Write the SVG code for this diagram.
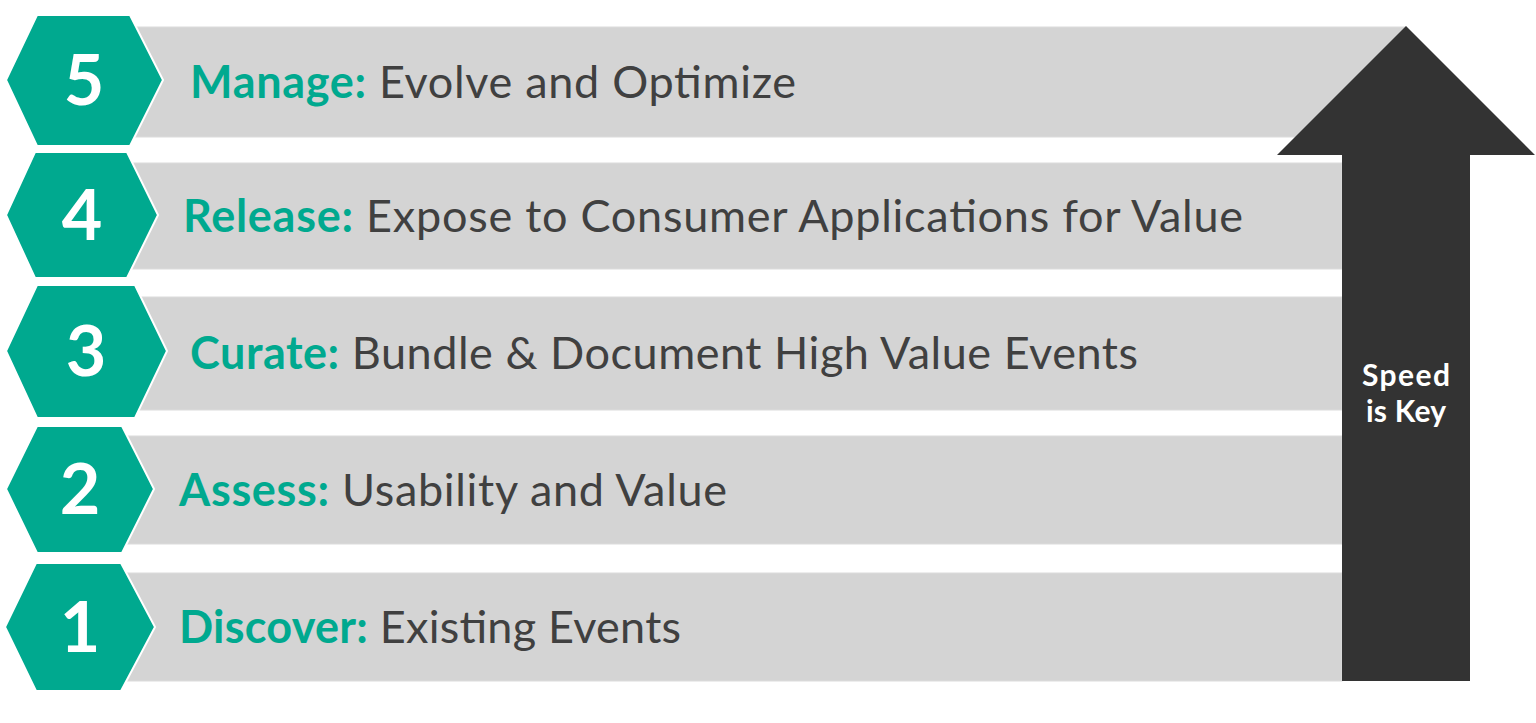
<svg xmlns="http://www.w3.org/2000/svg" width="1536" height="723" viewBox="0 0 1536 723">
<style>
.bar{fill:#D4D4D4;stroke:#DCDCDC;stroke-width:1}
.hex{fill:#00A98F;stroke:#FFFFFF;stroke-width:2}
.num{font-family:Lato,"Liberation Sans",sans-serif;font-weight:bold;font-size:70px;fill:#FFFFFF;text-anchor:middle}
.lbl{font-family:Lato,"Liberation Sans",sans-serif;font-size:45px;fill:#404040}
.key{font-weight:bold;fill:#00A98F}
.spd{font-family:Lato,"Liberation Sans",sans-serif;font-weight:bold;font-size:30px;fill:#FFFFFF;text-anchor:middle}
</style>
<rect width="1536" height="723" fill="#FFFFFF"/>
<g id="step5">
<rect class="bar" x="100" y="27" width="1306" height="110"/>
<polygon class="hex" points="6,80 37,15 130,15 163,80 130,146 37,146"/>
<text class="num" x="84" y="105">5</text>
<text class="lbl" x="190" y="98" textLength="606" lengthAdjust="spacing"><tspan class="key">Manage:</tspan> Evolve and Optimize</text>
</g>
<g id="step4">
<rect class="bar" x="100" y="163" width="1242" height="106"/>
<polygon class="hex" points="6,215 35,152 127,152 158,215 127,278 35,278"/>
<text class="num" x="82" y="240">4</text>
<text class="lbl" x="183" y="232" textLength="1060" lengthAdjust="spacing"><tspan class="key">Release:</tspan> Expose to Consumer Applications for Value</text>
</g>
<g id="step3">
<rect class="bar" x="100" y="297" width="1242" height="113"/>
<polygon class="hex" points="6,351 37,285 135,285 167,351 135,418 37,418"/>
<text class="num" x="86" y="376">3</text>
<text class="lbl" x="190" y="369" textLength="948" lengthAdjust="spacing"><tspan class="key">Curate:</tspan> Bundle &amp; Document High Value Events</text>
</g>
<g id="step2">
<rect class="bar" x="100" y="436" width="1242" height="108"/>
<polygon class="hex" points="6,489 37,426 122,426 154,489 122,553 37,553"/>
<text class="num" x="80" y="514">2</text>
<text class="lbl" x="179" y="506" textLength="548" lengthAdjust="spacing"><tspan class="key">Assess:</tspan> Usability and Value</text>
</g>
<g id="step1">
<rect class="bar" x="100" y="573" width="1242" height="108"/>
<polygon class="hex" points="5,627 36,563 121,563 155,627 121,691 36,691"/>
<text class="num" x="80" y="652">1</text>
<text class="lbl" x="179" y="643" textLength="502" lengthAdjust="spacing"><tspan class="key">Discover:</tspan> Existing Events</text>
</g>
<g id="connectors">
<g id="speed-arrow">
<polygon points="1406,26 1277,155 1342,155 1342,681 1470,681 1470,155 1535,155" fill="#333333"/>
<text class="spd" x="1406" y="386" textLength="88" lengthAdjust="spacing">Speed</text>
<text class="spd" x="1406" y="422" textLength="80" lengthAdjust="spacing">is Key</text>
</g>
</g>
</svg>
